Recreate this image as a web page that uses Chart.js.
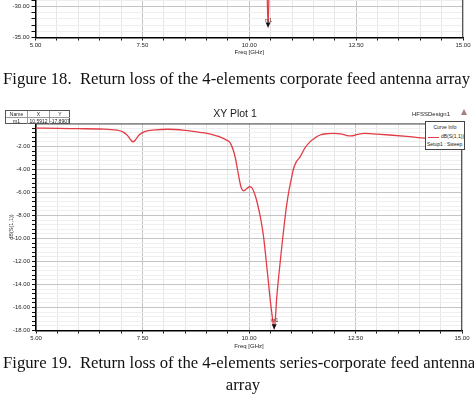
<!DOCTYPE html>
<html>
<head>
<meta charset="utf-8">
<script src="https://cdn.jsdelivr.net/npm/chart.js@4.4.1/dist/chart.umd.min.js"></script>
<style>
  html, body { margin: 0; padding: 0; background: #fff; }
  #page { position: relative; width: 474px; height: 398px; overflow: hidden; background: #fff;
          font-family: 'Liberation Sans', Arial, sans-serif; color: #222; }
  canvas { position: absolute; left: 0; }
  #c18 { top: -30px; }
  #c19 { top: 95px; }
  .cap { position: absolute; font-family: 'Liberation Serif', 'Times New Roman', serif;
         font-size: 16.7px; color: #111; white-space: nowrap; line-height: 1; }
  .abs { position: absolute; white-space: nowrap; line-height: 1; }
  #mk { position: absolute; left: 5px; top: 110px; width: 65px; height: 14px; border: 1px solid #555;
        background: #fff; box-sizing: border-box; display: grid; grid-template-columns: 22px 22px 1fr;
        grid-template-rows: 1fr 1fr; font-size: 5px; }
  #mk div { border-right: 1px solid #999; border-bottom: 1px solid #999; text-align: center; line-height: 6px; }
  #mk div:nth-child(3n) { border-right: none; }
  #mk div:nth-child(n+4) { border-bottom: none; }
  #curve { position: absolute; left: 425px; top: 121px; width: 40px; height: 29px; border: 1px solid #444;
           background: #fff; box-sizing: border-box; font-size: 5px; }
  #logo { position: absolute; left: 461px; top: 109px; width: 0; height: 0;
          border-left: 3px solid transparent; border-right: 3px solid transparent; border-bottom: 6px solid #a67b7b; }
</style>
</head>
<body>
<div id="page">
  <canvas id="c18" width="474" height="100"></canvas>
  <div class="cap" style="left:3px; top:71px;">Figure 18.&nbsp; Return loss of the 4-elements corporate feed antenna array</div>

  <canvas id="c19" width="474" height="260"></canvas>
  <div class="abs" style="left:185px; width:100px; top:108px; text-align:center; font-size:10.5px; color:#222;">XY Plot 1</div>
  <div class="abs" style="left:412px; top:111px; font-size:6px;">HFSSDesign1</div>
  <div id="logo"></div>
  <div id="mk">
    <div>Name</div><div>X</div><div>Y</div>
    <div>m1</div><div>10.5912</div><div>-17.8907</div>
  </div>
  <div id="curve">
    <div class="abs" style="left:0; width:38px; top:3px; text-align:center;">Curve Info</div>
    <div class="abs" style="left:2px; top:15px; width:11px; height:0; border-top:1.5px solid #e23c46;"></div>
    <div class="abs" style="left:15px; top:12px;">dB(S(1,1))</div>
    <div class="abs" style="left:1px; top:20px;">Setup1 : Sweep</div>
  </div>

  <div class="cap" style="left:3px; top:355px;">Figure 19.&nbsp; Return loss of the 4-elements series-corporate feed antenna</div>
  <div class="cap" style="left:143px; width:200px; top:377px; text-align:center;">array</div>
</div>

<script>
// Figure 19: dB(S(1,1)) vs frequency
const freq19 = [5.0, 5.5, 6.0, 6.5, 6.9, 7.05, 7.15, 7.22, 7.28, 7.34, 7.42, 7.55, 7.8, 8.1, 8.5,
  8.85, 9.1, 9.3, 9.45, 9.55, 9.62, 9.68, 9.73, 9.78, 9.82, 9.88, 9.95, 10.02, 10.08, 10.14,
  10.2, 10.28, 10.34, 10.4, 10.45, 10.5, 10.55, 10.5912, 10.62, 10.65, 10.7, 10.77, 10.83,
  10.88, 10.94, 11.0, 11.04, 11.1, 11.2, 11.3, 11.43, 11.55, 11.67, 11.85, 12.0, 12.15, 12.3,
  12.4, 12.55, 12.72, 13.0, 13.3, 13.7, 14.17, 14.6, 15.0];
const s11_19 = [-0.40, -0.42, -0.45, -0.48, -0.58, -0.75, -1.05, -1.4, -1.6, -1.4, -1.0, -0.7, -0.55, -0.5, -0.6,
  -0.77, -0.92, -1.15, -1.4, -1.65, -2.2, -3.0, -4.0, -5.0, -5.6, -5.85, -5.65, -5.5, -5.65, -6.2,
  -7.0, -8.4, -9.8, -11.8, -13.6, -15.4, -16.9, -17.89, -16.9, -15.2, -13.2, -10.7, -8.7,
  -7.2, -5.8, -4.7, -4.0, -3.4, -2.9, -2.2, -1.6, -1.25, -1.0, -0.88, -0.85, -0.9, -1.05,
  -1.08, -0.95, -0.86, -0.92, -1.0, -1.12, -1.28, -1.32, -1.3];
const marker19 = { x: 10.5912, y: -17.8907 };

// Figure 18: only the bottom of the resonance dip is visible
const freq18 = [10.40, 10.44, 10.48];
const s11_18 = [-20, -33.4, -20];
const marker18 = { x: 10.44, y: -33.4 };

const xMajorStep = 2.5;   // labelled every 2.5 GHz, minor grid every 0.5
const y19MajorStep = 2;   // labelled every 2 dB, minor every 0.4
const y18MajorStep = 5;   // labelled every 5 dB, minor every 1

const red = '#e23c46';
const isMult = (v, step, base) => Math.abs((v - base) / step - Math.round((v - base) / step)) < 1e-4;

// top/right frame + m1 marker
const hfss = {
  id: 'hfss',
  beforeDatasetsDraw(chart) {
    const { ctx, chartArea: a } = chart;
    ctx.save();
    ctx.strokeStyle = '#555';
    ctx.lineWidth = 1;
    ctx.beginPath();
    ctx.moveTo(a.left, a.top + 0.5);
    ctx.lineTo(a.right - 0.5, a.top + 0.5);
    ctx.lineTo(a.right - 0.5, a.bottom);
    ctx.stroke();
    ctx.restore();
  },
  afterDatasetsDraw(chart, args, opts) {
    const m = opts.marker;
    if (!m) return;
    const { ctx, scales } = chart;
    const px = scales.x.getPixelForValue(m.x);
    const py = scales.y.getPixelForValue(m.y);
    ctx.save();
    ctx.fillStyle = '#111';
    ctx.beginPath();
    ctx.moveTo(px - 2.5, py - 5);
    ctx.lineTo(px + 2.5, py - 5);
    ctx.lineTo(px, py);
    ctx.closePath();
    ctx.fill();
    ctx.font = '5px "Liberation Sans", Arial, sans-serif';
    ctx.textAlign = 'center';
    ctx.textBaseline = 'middle';
    ctx.fillStyle = '#5a1010';
    ctx.fillText('m1', px + 0.5, py - opts.labelGap);
    ctx.restore();
  }
};

function makeChart(id, xs, ys, marker, y, layout) {
  return new Chart(document.getElementById(id), {
    type: 'line',
    data: {
      datasets: [{
        data: xs.map((f, i) => ({ x: f, y: ys[i] })),
        borderColor: red,
        borderWidth: 1.3,
        pointRadius: 0,
        cubicInterpolationMode: 'monotone',
      }]
    },
    options: {
      responsive: false,
      animation: false,
      layout: { padding: { top: layout.top, right: layout.right, left: 0, bottom: 0 } },
      plugins: {
        legend: { display: false },
        tooltip: { enabled: false },
        hfss: { marker, labelGap: layout.labelGap }
      },
      scales: {
        x: {
          type: 'linear', min: 5, max: 15,
          ticks: {
            stepSize: 0.5, maxTicksLimit: 100, autoSkip: false, maxRotation: 0, padding: 1,
            font: { size: 6 }, color: '#222',
            callback: v => isMult(v, xMajorStep, 5) ? v.toFixed(2) : ''
          },
          grid: {
            color: c => isMult(c.tick.value, xMajorStep, 5) ? '#c4c4c4' : '#e6e6e6',
            tickColor: '#111', tickLength: 3
          },
          border: { color: '#000', width: 1.5 },
          title: { display: true, text: 'Freq [GHz]', font: { size: 6 }, color: '#222',
                   padding: { top: 0, bottom: layout.xTitlePad } },
          afterFit: s => { s.height = layout.xHeight; }
        },
        y: {
          type: 'linear', min: y.min, max: y.max,
          ticks: {
            stepSize: y.minor, maxTicksLimit: 100, autoSkip: false, padding: 2,
            font: { size: 6 }, color: '#222',
            callback: v => (isMult(v, y.major, 0) && v !== 0 && v !== y.max) ? v.toFixed(2) : ''
          },
          grid: {
            color: c => isMult(c.tick.value, y.major, 0) ? '#c4c4c4' : '#efefef',
            tickColor: '#111', tickLength: 4
          },
          border: { color: '#000', width: 1.5 },
          title: { display: y.title !== '', text: y.title, font: { size: 5.5 }, color: '#333',
                   padding: { top: 8, bottom: 0 } },
          afterFit: s => { s.width = layout.yWidth; }
        }
      }
    },
    plugins: [hfss]
  });
}

makeChart('c18', freq18, s11_18, marker18,
  { min: -35, max: -25, minor: 1, major: y18MajorStep, title: '' },
  { top: 4.5, right: 11, xHeight: 32.5, xTitlePad: 14, yWidth: 35.5, labelGap: 7 });

makeChart('c19', freq19, s11_19, marker19,
  { min: -18, max: 0, minor: 0.4, major: y19MajorStep, title: 'dB(S(1,1))' },
  { top: 28.5, right: 12, xHeight: 24.5, xTitlePad: 5, yWidth: 36, labelGap: 9 });
</script>
</body>
</html>
